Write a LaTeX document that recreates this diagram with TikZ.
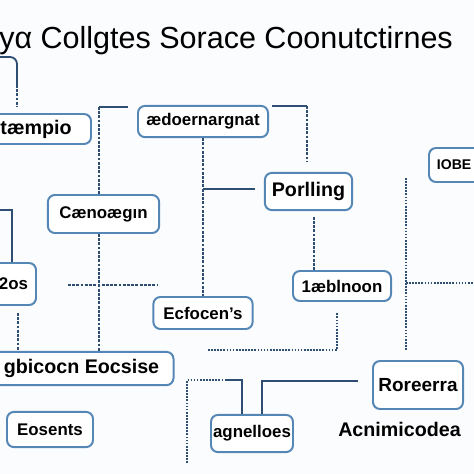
\documentclass[tikz,border=0pt]{standalone}
\usepackage{fontspec}
\setmainfont{Liberation Sans}
\usetikzlibrary{calc}
\definecolor{boxblue}{RGB}{84,134,182}
\definecolor{linkblue}{RGB}{46,78,116}
\definecolor{paper}{RGB}{251,252,253}
\tikzset{
  label-box/.style={
    draw=boxblue,
    line width=1.4pt,
    rounded corners=5pt,
    fill=white,
    inner sep=0pt,
    font=\fontsize{12}{14}\selectfont\bfseries
  },
  link/.style={
    draw=linkblue,
    line width=1.3pt
  },
  link-dash/.style={
    link,
    dash pattern=on 2pt off 1pt
  },
  link-dot/.style={
    link,
    line width=1.1pt,
    dash pattern=on 1.2pt off 1pt
  }
}

\begin{document}
\begin{tikzpicture}[x=0.025cm,y=-0.025cm]
  \fill[paper] (0,0) rectangle (474,474);
  \useasboundingbox (0,0) rectangle (474,474);

  % title
  \node[anchor=base west, inner sep=0pt, font=\fontsize{21.7}{24}\selectfont] (title)
    at (-1,48) {yα Collgtes Sorace Coonutctirnes};

  % boxes
  \node[label-box, minimum width=2.75cm, minimum height=0.75cm,
        font=\fontsize{14}{16}\selectfont\bfseries] (tempio) at (36,129) {tæmpio};
  \node[label-box, minimum width=3.25cm, minimum height=0.78cm] (adoern) at (203,121.5) {ædoernargnat};
  \node[label-box, minimum width=2.18cm, minimum height=0.93cm,
        font=\fontsize{14}{16}\selectfont\bfseries] (porl) at (308.5,191.5) {Porlling};
  \node[label-box, minimum width=1.75cm, minimum height=0.85cm, text width=1.35cm, align=left,
        font=\fontsize{10}{12}\selectfont\bfseries] (iobe) at (464,165) {IOBE};
  \node[label-box, minimum width=2.78cm, minimum height=0.95cm] (caeno) at (103.5,214) {Cænoægın};
  \node[label-box, minimum width=2.45cm, minimum height=0.75cm] (aebl) at (342,286) {1æblnoon};
  \node[label-box, minimum width=1.9cm, minimum height=1.05cm, text width=1.5cm, align=right] (twos)
    at (-2,284) {2os};
  \node[label-box, minimum width=2.48cm, minimum height=0.8cm] (ecfo) at (203,313) {Ecfocen's};
  \node[label-box, minimum width=4.6cm, minimum height=0.83cm,
        font=\fontsize{14}{16}\selectfont\bfseries] (gbic) at (81.5,368.5) {gbicocn Eocsise};
  \node[label-box, minimum width=2.15cm, minimum height=0.88cm] (eosen) at (50,429.5) {Eosents};
  \node[label-box, minimum width=2.05cm, minimum height=0.93cm] (agnel) at (252,433.5) {agnelloes};
  \node[label-box, minimum width=2.25cm, minimum height=1.2cm,
        font=\fontsize{13.5}{15}\selectfont\bfseries] (roree) at (418,385) {Roreerra};
  \node[anchor=base west, inner sep=0pt, font=\fontsize{14}{16}\selectfont\bfseries] (acni)
    at (338,436) {Acnimicodea};

  % free ends
  \coordinate (top-a) at (0,57);
  \coordinate (top-b) at (17,85);
  \coordinate (top-c) at (17,107);
  \coordinate (hook) at (128,107);
  \coordinate (right-a) at (272,106);
  \coordinate (right-b) at (307,106);
  \coordinate (right-c) at (307,162);
  \coordinate (col-top) at (406,178);
  \coordinate (col-bot) at (406,350);
  \coordinate (col-mid) at (406,283);
  \coordinate (col-end) at (474,283);
  \coordinate (cross-a) at (68,285);
  \coordinate (cross-b) at (158,285);
  \coordinate (side-a) at (0,210);
  \coordinate (low-a) at (208,350);
  \coordinate (low-b) at (337,350);
  \coordinate (low-c) at (337,312);
  \coordinate (foot-a) at (187,463);
  \coordinate (foot-b) at (187,380);
  \coordinate (foot-c) at (225,380);
  \coordinate (foot-d) at (358,381);

  % connectors
  \draw[link, rounded corners=5pt] (top-a) -| (top-b);
  \draw[link-dash] (top-b) -- (top-c);
  \draw[link] (hook) -- ++(-29,0) coordinate (hook-turn);
  \draw[link-dash] (hook-turn) -- (hook-turn |- caeno.north);
  \draw[link-dash] (adoern.south) -- (adoern.south |- ecfo.north);
  \draw[link, shorten >=6pt] (adoern.south |- 0,189) -- (porl.west |- 0,189);
  \draw[link] (right-a) -- (right-b);
  \draw[link-dash] (right-b) -- (right-c);
  \draw[link-dash, shorten <=4pt] ([shift={(5.5,0)}]porl.south) -- ([shift={(5.5,0)}]porl.south |- aebl.north);
  \draw[link-dot] (col-top) -- (col-bot);
  \draw[link-dot] (col-mid) -- (col-end);
  \draw[link-dash] ([shift={(-4.5,0)}]caeno.south) -- ([shift={(-4.5,0)}]caeno.south |- gbic.north);
  \draw[link-dash] (cross-a) -- (cross-b);
  \draw[link] (side-a) -| ([shift={(14,0)}]twos.north);
  \draw[link-dash, shorten <=5pt] ([shift={(20,0)}]twos.south) -- ([shift={(20,0)}]twos.south |- gbic.north);
  \draw[link-dot] (low-a) -- (low-b) -- (low-c);
  \draw[link-dot] (foot-a) -- (foot-b) -- (foot-c);
  \draw[link] (foot-c) -| ([shift={(32,0)}]agnel.north west);
  \draw[link] ([shift={(52,0)}]agnel.north west) |- (foot-d);
\end{tikzpicture}
\end{document}
